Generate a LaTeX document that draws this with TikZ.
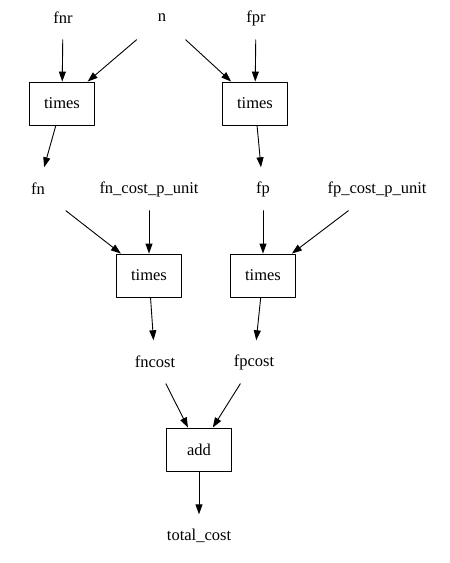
\documentclass[tikz,border=0pt]{standalone}
\usepackage{fontspec}
\setmainfont{Liberation Serif}
\usetikzlibrary{arrows.meta}

\begin{document}
\begin{tikzpicture}[line cap=round,line join=round,>={Triangle[length=10pt,width=7pt]},x=1pt,y=-1pt,
  var/.style={inner sep=0pt,minimum width=65pt,minimum height=43pt,font=\fontsize{16.5}{19}\selectfont},
  op/.style={draw,line width=0.9pt,inner sep=0pt,minimum width=65pt,minimum height=43pt,font=\fontsize{16.5}{19}\selectfont},
  edge/.style={->,line width=0.9pt}]
\useasboundingbox (0,0) rectangle (450,563);
% inputs
\node[var] (fnr) at (63,18) {fnr};
\node[var] (n) at (162,18) {n};
\node[var] (fpr) at (256,18) {fpr};
% first products
\node[op] (timesfn) at (62,103.5) {times};
\node[op] (timesfp) at (255,103.5) {times};
\node[var] (fn) at (38,189) {fn};
\node[var] (fnunit) at (149,189) {fn\_cost\_p\_unit};
\node[var] (fp) at (263,189) {fp};
\node[var] (fpunit) at (377,189) {fp\_cost\_p\_unit};
% costs
\node[op] (timesfncost) at (149,275.5) {times};
\node[op] (timesfpcost) at (263,275.5) {times};
\node[var] (fncost) at (155,362) {fncost};
\node[var] (fpcost) at (254,362) {fpcost};
\node[op] (add) at (199,449.5) {add};
\node[var] (total) at (199,536) {total\_cost};
% edges
\draw[edge] (fnr) -- (timesfn);
\draw[edge] (n) -- (timesfn);
\draw[edge] (n) -- (timesfp);
\draw[edge] (fpr) -- (timesfp);
\draw[edge] (timesfn) -- (fn);
\draw[edge] (timesfp) -- (fp);
\draw[edge] (fn) -- (timesfncost);
\draw[edge] (fnunit) -- (timesfncost);
\draw[edge] (fp) -- (timesfpcost);
\draw[edge] (fpunit) -- (timesfpcost);
\draw[edge] (timesfncost) -- (fncost);
\draw[edge] (timesfpcost) -- (fpcost);
\draw[edge] (fncost) -- (add);
\draw[edge] (fpcost) -- (add);
\draw[edge] (add) -- (total);
\end{tikzpicture}
\end{document}
